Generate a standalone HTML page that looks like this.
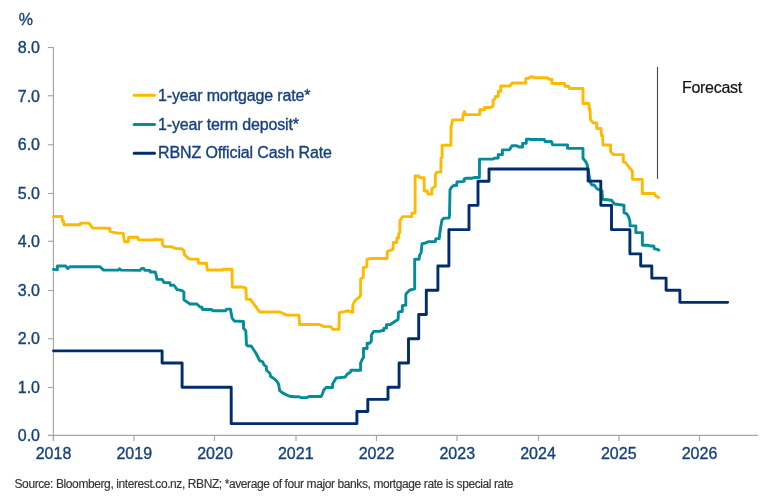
<!DOCTYPE html>
<html><head><meta charset="utf-8"><style>
html,body{margin:0;padding:0;background:#fff;}
svg{display:block;will-change:transform;}
.t{font-family:"Liberation Sans",sans-serif;font-size:16px;fill:#17407f;stroke:#17407f;stroke-width:0.35px;}
.ax{stroke:#a6a6a6;stroke-width:1.15;}
</style></head><body>
<svg width="768" height="504" viewBox="0 0 768 504">
<text x="18.7" y="25.4" class="t">%</text>
<text x="40" y="441.2" text-anchor="end" class="t">0.0</text>
<line x1="48" y1="435.5" x2="53.5" y2="435.5" class="ax"/>
<text x="40" y="392.7" text-anchor="end" class="t">1.0</text>
<line x1="48" y1="387.5" x2="53.5" y2="387.5" class="ax"/>
<text x="40" y="344.2" text-anchor="end" class="t">2.0</text>
<line x1="48" y1="338.75" x2="53.5" y2="338.75" class="ax"/>
<text x="40" y="295.7" text-anchor="end" class="t">3.0</text>
<line x1="48" y1="290.5" x2="53.5" y2="290.5" class="ax"/>
<text x="40" y="247.2" text-anchor="end" class="t">4.0</text>
<line x1="48" y1="241.25" x2="53.5" y2="241.25" class="ax"/>
<text x="40" y="198.7" text-anchor="end" class="t">5.0</text>
<line x1="48" y1="193.5" x2="53.5" y2="193.5" class="ax"/>
<text x="40" y="150.2" text-anchor="end" class="t">6.0</text>
<line x1="48" y1="144.75" x2="53.5" y2="144.75" class="ax"/>
<text x="40" y="101.7" text-anchor="end" class="t">7.0</text>
<line x1="48" y1="95.75" x2="53.5" y2="95.75" class="ax"/>
<text x="40" y="53.2" text-anchor="end" class="t">8.0</text>
<line x1="48" y1="47.5" x2="53.5" y2="47.5" class="ax"/>
<text x="53.50" y="458.5" text-anchor="middle" class="t">2018</text>
<line x1="53.5" y1="435.5" x2="53.5" y2="441" class="ax"/>
<text x="134.25" y="458.5" text-anchor="middle" class="t">2019</text>
<line x1="134" y1="435.5" x2="134" y2="441" class="ax"/>
<text x="215.00" y="458.5" text-anchor="middle" class="t">2020</text>
<line x1="214.5" y1="435.5" x2="214.5" y2="441" class="ax"/>
<text x="295.75" y="458.5" text-anchor="middle" class="t">2021</text>
<line x1="296" y1="435.5" x2="296" y2="441" class="ax"/>
<text x="376.50" y="458.5" text-anchor="middle" class="t">2022</text>
<line x1="376.5" y1="435.5" x2="376.5" y2="441" class="ax"/>
<text x="457.25" y="458.5" text-anchor="middle" class="t">2023</text>
<line x1="457" y1="435.5" x2="457" y2="441" class="ax"/>
<text x="538.00" y="458.5" text-anchor="middle" class="t">2024</text>
<line x1="538.5" y1="435.5" x2="538.5" y2="441" class="ax"/>
<text x="618.75" y="458.5" text-anchor="middle" class="t">2025</text>
<line x1="619" y1="435.5" x2="619" y2="441" class="ax"/>
<text x="699.50" y="458.5" text-anchor="middle" class="t">2026</text>
<line x1="699.5" y1="435.5" x2="699.5" y2="441" class="ax"/>
<line x1="53.4" y1="47" x2="53.4" y2="441" class="ax"/>
<line x1="48" y1="435.3" x2="758" y2="435.3" class="ax"/>
<path d="M53.5,216.2 L62.0,216.3 L62.5,221.0 L63.5,221.0 L64.0,224.5 L80.2,224.5 L80.5,222.9 L89.0,222.9 L92.7,227.9 L109.6,227.9 L110.0,231.0 L116.7,232.9 L123.2,232.9 L124.0,238.5 L124.7,241.5 L128.3,241.5 L128.6,237.0 L137.7,237.0 L138.5,239.6 L154.5,239.6 L155.5,238.8 L156.5,239.4 L162.2,239.4 L162.5,244.3 L164.3,246.4 L171.0,246.4 L175.2,248.1 L181.5,248.5 L184.0,250.5 L184.5,254.7 L189.3,258.9 L198.1,258.9 L198.5,263.0 L206.5,263.0 L207.3,269.8 L223.1,269.8 L223.5,269.0 L232.0,269.0 L232.3,286.7 L241.4,286.7 L246.0,288.0 L246.3,299.1 L250.4,299.1 L259.7,311.7 L279.8,311.7 L286.9,314.9 L299.0,314.9 L299.5,324.2 L319.4,324.2 L324.3,326.4 L330.8,326.4 L333.0,329.1 L339.0,329.1 L339.3,312.4 L343.4,311.8 L347.2,310.5 L352.7,312.0 L352.9,304.6 L354.8,300.7 L357.0,298.6 L359.2,297.0 L360.6,294.7 L360.6,278.8 L363.3,277.0 L363.3,267.5 L366.9,266.3 L367.0,259.2 L370.5,258.2 L387.1,258.2 L387.3,251.4 L390.7,250.0 L393.1,249.0 L393.3,242.3 L396.7,242.3 L397.0,237.7 L398.5,237.7 L398.8,233.6 L399.9,232.0 L399.9,220.6 L402.6,216.4 L411.7,216.4 L412.0,212.9 L415.1,212.9 L415.1,175.8 L418.6,175.8 L420.0,177.5 L424.2,177.5 L424.2,190.7 L427.2,190.7 L428.0,193.9 L431.8,193.9 L431.8,188.6 L435.3,185.8 L435.3,175.4 L436.7,171.9 L440.8,171.9 L441.0,158.5 L442.1,156.9 L442.1,145.0 L450.9,145.0 L451.0,126.7 L451.7,124.4 L452.5,119.6 L462.8,119.6 L463.0,114.8 L464.4,111.3 L465.5,114.4 L479.8,114.4 L479.8,109.5 L484.5,109.5 L484.7,107.2 L490.4,107.2 L493.0,106.1 L493.0,100.4 L495.1,98.3 L495.5,96.2 L498.2,96.2 L498.5,91.0 L500.8,91.0 L500.8,85.8 L509.7,85.8 L512.3,82.7 L525.8,82.7 L525.8,78.5 L528.4,78.0 L531.0,76.5 L532.6,76.5 L534.2,77.5 L547.2,77.5 L549.3,79.1 L551.9,79.1 L551.9,83.2 L564.5,83.3 L565.0,86.0 L568.7,86.0 L569.5,88.3 L583.0,88.3 L583.0,103.2 L588.9,103.2 L589.5,109.5 L590.1,109.5 L590.5,119.6 L593.1,122.6 L596.7,122.6 L596.7,128.2 L601.0,128.2 L601.5,135.3 L602.6,135.3 L603.0,144.8 L610.6,144.8 L610.6,151.2 L613.3,154.4 L623.3,154.4 L623.3,161.5 L625.2,162.1 L630.0,168.1 L632.4,171.0 L632.4,179.1 L642.3,179.1 L642.3,193.3 L654.5,193.3 L655.6,195.6 L657.0,196.2 L658.6,197.2" fill="none" stroke="#ffb900" stroke-width="2.9" stroke-linejoin="round" stroke-linecap="round" transform="translate(0 0.25)"/>
<path d="M53.5,269.1 L57.3,269.6 L57.5,265.7 L65.6,265.7 L67.7,268.3 L69.8,266.5 L100.0,266.5 L103.6,269.9 L118.2,269.9 L119.6,268.5 L121.0,269.9 L140.1,270.1 L141.7,268.1 L143.8,268.1 L144.8,270.1 L150.0,270.1 L150.3,271.7 L155.2,271.7 L156.2,275.1 L157.0,279.1 L162.0,279.1 L164.1,282.4 L169.8,282.4 L170.5,285.0 L174.0,285.0 L177.1,289.4 L181.8,290.2 L183.9,291.8 L183.9,299.6 L190.1,303.8 L196.9,303.8 L200.0,306.7 L202.0,306.9 L202.4,309.3 L211.3,309.3 L213.1,310.5 L225.6,310.5 L226.5,308.9 L230.4,308.9 L231.0,311.9 L232.1,317.9 L234.5,320.8 L243.5,321.2 L243.5,328.0 L245.8,330.4 L246.5,344.6 L248.2,345.8 L251.2,345.8 L256.0,353.0 L258.0,357.0 L259.8,360.5 L262.7,361.7 L264.0,364.6 L266.3,366.4 L266.5,370.0 L269.9,373.0 L270.5,376.0 L274.6,378.9 L277.0,381.3 L278.8,384.3 L279.5,390.2 L282.4,392.6 L286.0,394.4 L289.5,396.0 L294.3,396.5 L299.0,396.5 L301.4,397.4 L306.8,397.4 L309.2,396.2 L321.3,396.2 L323.1,392.0 L323.5,390.2 L326.1,387.3 L332.6,387.3 L332.6,383.7 L336.2,377.7 L345.1,376.9 L346.9,374.2 L350.5,371.8 L351.0,370.0 L360.6,370.0 L360.6,362.9 L362.3,358.9 L363.5,357.3 L363.5,348.2 L367.1,348.2 L367.1,343.0 L369.8,343.0 L371.4,340.6 L371.4,334.7 L373.8,331.1 L379.8,331.1 L382.5,330.2 L383.7,330.2 L384.0,327.9 L386.5,327.9 L386.5,324.4 L390.4,324.2 L394.5,321.5 L398.1,319.2 L398.5,312.0 L399.9,311.2 L402.3,311.2 L402.3,305.5 L405.8,304.9 L405.8,294.8 L406.3,293.2 L409.5,290.0 L414.7,288.5 L414.7,259.0 L419.2,259.0 L419.5,255.2 L421.1,252.6 L422.0,243.5 L425.0,242.9 L428.2,241.5 L429.5,241.4 L435.3,241.4 L436.0,238.4 L439.2,238.4 L439.9,232.5 L440.5,228.3 L441.9,220.0 L444.0,217.9 L448.9,217.9 L449.5,215.8 L450.0,189.4 L451.7,186.7 L453.8,185.3 L456.5,185.3 L457.0,181.8 L464.2,181.1 L464.2,178.6 L466.2,178.0 L471.8,178.0 L475.3,177.2 L479.4,177.2 L479.5,158.9 L492.9,158.9 L494.0,158.0 L498.2,157.8 L498.2,154.4 L502.4,154.4 L502.4,149.6 L509.5,149.6 L511.9,145.5 L516.7,145.5 L519.0,146.7 L522.6,146.7 L522.6,143.1 L526.2,143.1 L526.5,138.9 L528.6,138.9 L531.0,139.3 L544.3,139.3 L545.0,141.3 L551.4,141.3 L552.6,144.6 L567.5,144.6 L567.5,148.1 L583.0,148.1 L583.0,158.0 L585.4,161.0 L587.1,163.9 L588.0,169.3 L590.5,182.4 L591.9,184.8 L594.3,184.8 L596.7,188.3 L599.0,189.5 L602.0,190.7 L602.5,199.0 L611.5,200.0 L614.5,203.8 L624.0,205.0 L624.0,212.5 L626.9,213.7 L628.7,216.7 L629.9,220.8 L630.0,225.6 L635.8,225.6 L635.8,232.4 L642.4,232.4 L642.4,245.0 L647.7,245.0 L650.7,245.8 L653.7,245.8 L654.0,246.5 L654.3,248.6 L656.5,248.9 L658.8,249.8" fill="none" stroke="#038c9b" stroke-width="2.9" stroke-linejoin="round" stroke-linecap="round" transform="translate(0 0.25)"/>
<path d="M53.5,350.6 L162.1,350.6 L162.1,362.8 L182.1,362.8 L182.1,387.0 L231.2,387.0 L231.2,423.4 L356.9,423.4 L356.9,411.2 L367.8,411.2 L367.8,399.1 L388.0,399.1 L388.0,387.0 L399.1,387.0 L399.1,362.8 L408.5,362.8 L408.5,338.5 L418.7,338.5 L418.7,314.2 L426.3,314.2 L426.3,290.0 L437.9,290.0 L437.9,265.8 L448.9,265.8 L448.9,229.4 L469.0,229.4 L469.0,205.1 L478.0,205.1 L478.0,181.0 L489.0,181.0 L489.0,168.8 L588.1,168.8 L588.1,180.9 L600.8,180.9 L600.8,205.1 L611.5,205.1 L611.5,229.4 L629.9,229.4 L629.9,253.6 L640.7,253.6 L640.7,265.8 L651.8,265.8 L651.8,277.9 L666.1,277.9 L666.1,290.0 L679.9,290.0 L679.9,302.1 L727.7,302.1" fill="none" stroke="#002d6e" stroke-width="2.9" stroke-linejoin="round" stroke-linecap="round" transform="translate(0 0.25)"/>
<line x1="134.2" y1="95.25" x2="154.5" y2="95.25" stroke-linecap="round" stroke="#ffb900" stroke-width="3"/>
<line x1="134.2" y1="124.5" x2="154.5" y2="124.5" stroke-linecap="round" stroke="#038c9b" stroke-width="3"/>
<line x1="134.2" y1="153.3" x2="154.5" y2="153.3" stroke-linecap="round" stroke="#002d6e" stroke-width="3"/>
<text x="158" y="100.8" class="t" letter-spacing="-0.16">1-year mortgage rate*</text>
<text x="158" y="129.7" class="t" letter-spacing="-0.16">1-year term deposit*</text>
<text x="158" y="158.2" class="t" letter-spacing="-0.12">RBNZ Official Cash Rate</text>
<line x1="657.5" y1="67" x2="657.5" y2="179" stroke="#454545" stroke-width="1.1"/>
<text x="682" y="93" style="font-family:'Liberation Sans',sans-serif;font-size:16px;fill:#111;stroke:#111;stroke-width:0.2px" letter-spacing="-0.3">Forecast</text>
<text x="14.5" y="487.5" style="font-family:'Liberation Sans',sans-serif;font-size:12px;fill:#333;stroke:#333;stroke-width:0.15px" textLength="499" lengthAdjust="spacing">Source: Bloomberg, interest.co.nz, RBNZ; *average of four major banks, mortgage rate is special rate</text>
</svg>
</body></html>
